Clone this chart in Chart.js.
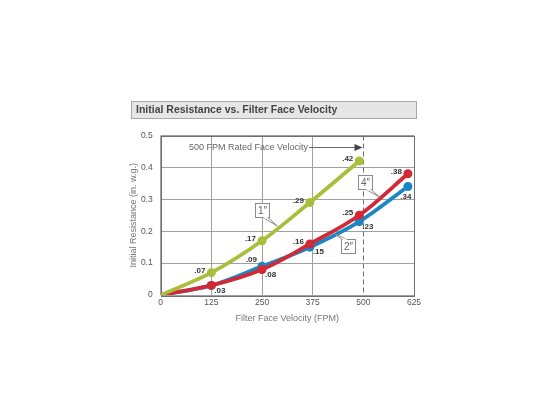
<!DOCTYPE html>
<html>
<head>
<meta charset="utf-8">
<title>Initial Resistance vs. Filter Face Velocity</title>
<script src="https://cdn.jsdelivr.net/npm/chart.js@4.4.0/dist/chart.umd.min.js"></script>
<style>
  html, body { margin: 0; padding: 0; background: #fff; }
  #chart { display: block; }
</style>
</head>
<body>
<canvas id="chart" width="550" height="420"></canvas>
<script>
/** Data */
const velocity = [0, 125, 250, 368, 490, 610];
const oneInch = [0, 0.07, 0.17, 0.29, 0.42];
const twoInch = [0, 0.03, 0.09, 0.15, 0.23, 0.34];
const fourInch = [0, 0.03, 0.08, 0.16, 0.25, 0.38];

const oneInchLabels = ['', '.07', '.17', '.29', '.42'];
const twoInchLabels = ['', '', '.09', '.15', '.23', '.34'];
const fourInchLabels = ['', '.03', '.08', '.16', '.25', '.38'];

// which side of the point each value label sits on
const oneInchSides = ['', 'w', 'w', 'w', 'w'];
const twoInchSides = ['', '', 'nw', 'se', 'se', 's'];
const fourInchSides = ['', 'se', 'se', 'w', 'w', 'w'];

const xTicks = [0, 125, 250, 375, 500, 625];
const yTicks = [0, 0.1, 0.2, 0.3, 0.4, 0.5];
const ratedVelocity = 500;
const ratedText = '500 FPM Rated Face Velocity';
const titleText = 'Initial Resistance vs. Filter Face Velocity';
/** End of Data */

const FONT = '"Liberation Sans Narrow", "Liberation Sans", Arial, sans-serif';

function points(values) {
  return values.map((v, i) => ({ x: velocity[i], y: v }));
}

function radii(values) {
  return values.map((v, i) => (i === 0 ? 0 : 4.5));
}

// callout boxes, placed in data units
const callouts = [
  { text: '1\u2033', x: 250.5, y: 0.265, tipX: 288, tipY: 0.216 },
  { text: '2\u2033', x: 461, y: 0.154, tipX: 431, tipY: 0.191 },
  { text: '4\u2033', x: 504, y: 0.354, tipX: 540, tipY: 0.307 },
];

const frame = {
  id: 'frame',
  beforeDraw(chart) {
    const ctx = chart.ctx;
    ctx.save();
    // title bar
    ctx.fillStyle = '#e6e6e6';
    ctx.fillRect(131.5, 101.5, 285, 17);
    ctx.strokeStyle = '#a8a8a8';
    ctx.lineWidth = 1;
    ctx.strokeRect(131.5, 101.5, 285, 17);
    ctx.fillStyle = '#444';
    ctx.font = 'bold 10.5px ' + FONT;
    ctx.textBaseline = 'middle';
    ctx.textAlign = 'left';
    ctx.fillText(titleText, 136, 110.5);
    ctx.restore();
  },
  beforeDatasetsDraw(chart) {
    const { ctx, chartArea: a, scales } = chart;
    const x = Math.round(scales.x.getPixelForValue(ratedVelocity)) + 0.5;
    ctx.save();
    ctx.strokeStyle = '#6f6f6f';
    ctx.lineWidth = 1;
    ctx.strokeRect(Math.round(a.left) + 0.5, Math.round(a.top) + 0.5,
      Math.round(a.right - a.left), Math.round(a.bottom - a.top));
    ctx.setLineDash([5, 3]);
    ctx.beginPath();
    ctx.moveTo(x, a.top);
    ctx.lineTo(x, a.bottom);
    ctx.stroke();
    ctx.setLineDash([]);

    // rated velocity arrow
    const y = Math.round(scales.y.getPixelForValue(0.465)) + 0.5;
    ctx.font = '9px ' + FONT;
    ctx.fillStyle = '#666';
    ctx.textAlign = 'right';
    ctx.textBaseline = 'middle';
    ctx.fillText(ratedText, 308, y);
    ctx.strokeStyle = '#666';
    ctx.beginPath();
    ctx.moveTo(309, y);
    ctx.lineTo(x - 6, y);
    ctx.stroke();
    ctx.beginPath();
    ctx.moveTo(x - 1, y);
    ctx.lineTo(x - 9, y - 3.5);
    ctx.lineTo(x - 9, y + 3.5);
    ctx.closePath();
    ctx.fillStyle = '#444';
    ctx.fill();
    ctx.restore();
  },
  afterDatasetsDraw(chart) {
    const { ctx, scales } = chart;
    ctx.save();

    // value labels
    const labels = [oneInchLabels, fourInchLabels, twoInchLabels];
    const sides = [oneInchSides, fourInchSides, twoInchSides];
    ctx.font = 'bold 8px ' + FONT;
    ctx.fillStyle = '#333';
    ctx.textBaseline = 'middle';
    labels.forEach((set, d) => {
      const meta = chart.getDatasetMeta(d);
      set.forEach((txt, i) => {
        if (!txt) return;
        const p = meta.data[i];
        const side = sides[d][i];
        if (side === 'w') {
          ctx.textAlign = 'right';
          ctx.fillText(txt, p.x - 6, p.y - 2);
        } else if (side === 'nw') {
          ctx.textAlign = 'right';
          ctx.fillText(txt, p.x - 5, p.y - 6);
        } else if (side === 'se') {
          ctx.textAlign = 'left';
          ctx.fillText(txt, p.x + 3, p.y + 5);
        } else if (side === 's') {
          ctx.textAlign = 'center';
          ctx.fillText(txt, p.x - 2, p.y + 10);
        }
      });
    });

    // callouts
    ctx.font = '10px ' + FONT;
    callouts.forEach((c) => {
      const cx = Math.round(scales.x.getPixelForValue(c.x));
      const cy = Math.round(scales.y.getPixelForValue(c.y));
      const tx = scales.x.getPixelForValue(c.tipX);
      const ty = scales.y.getPixelForValue(c.tipY);
      const h = 7;
      const ey = ty > cy ? cy + h + 0.5 : cy - h + 0.5;
      const b1 = tx > cx ? cx + 1 : cx - 6;
      const b2 = tx > cx ? cx + 6 : cx - 1;
      ctx.fillStyle = '#fff';
      ctx.strokeStyle = '#8a8a8a';
      ctx.lineWidth = 1;
      ctx.fillRect(cx - h + 0.5, cy - h + 0.5, 2 * h, 2 * h);
      ctx.strokeRect(cx - h + 0.5, cy - h + 0.5, 2 * h, 2 * h);
      ctx.beginPath();
      ctx.moveTo(b1, ey);
      ctx.lineTo(tx, ty);
      ctx.lineTo(b2, ey);
      ctx.fill();
      ctx.stroke();
      ctx.fillRect(b1 + 0.5, ey - 1, b2 - b1 - 1, 2);
      ctx.fillStyle = '#666';
      ctx.textAlign = 'center';
      ctx.textBaseline = 'middle';
      ctx.fillText(c.text, cx + 0.5, cy + 1);
    });
    ctx.restore();
  },
};

function series(label, values, color) {
  return {
    label,
    data: points(values),
    borderColor: color,
    backgroundColor: color,
    borderWidth: 3.8,
    pointRadius: radii(values),
    pointHoverRadius: radii(values),
    pointBorderWidth: 0,
    tension: 0.35,
    fill: false,
  };
}

new Chart(document.getElementById('chart'), {
  type: 'line',
  data: {
    datasets: [
      series('1"', oneInch, '#a9bf3c'),
      series('4"', fourInch, '#d12a36'),
      series('2"', twoInch, '#1b86c4'),
    ],
  },
  options: {
    responsive: false,
    animation: false,
    layout: { padding: { left: 128, top: 135.5, right: 136, bottom: 96 } },
    plugins: {
      legend: { display: false },
      tooltip: { enabled: false },
    },
    scales: {
      x: {
        type: 'linear',
        min: 0,
        max: 625,
        afterFit(s) { s.height = 29; },
        afterBuildTicks(s) { s.ticks = xTicks.map((v) => ({ value: v })); },
        grid: {
          color: (c) => (c.tick && c.tick.value === ratedVelocity ? 'rgba(0,0,0,0)' : '#a0a0a0'),
          drawTicks: false,
        },
        border: { display: false },
        ticks: {
          padding: 3,
          color: '#555',
          font: { family: FONT, size: 8.5 },
          callback: (v) => String(v),
        },
        title: {
          display: true,
          text: 'Filter Face Velocity (FPM)',
          color: '#777',
          padding: 0,
          font: { family: FONT, size: 9 },
        },
      },
      y: {
        min: 0,
        max: 0.5,
        afterFit(s) { s.width = 32.7; },
        afterBuildTicks(s) { s.ticks = yTicks.map((v) => ({ value: v })); },
        grid: { color: '#a0a0a0', drawTicks: false },
        border: { display: false },
        ticks: {
          padding: 8,
          color: '#555',
          font: { family: FONT, size: 8.5 },
          callback: (v) => (v === 0 ? '0' : v.toFixed(1)),
        },
        title: {
          display: true,
          text: 'Initial Resistance (in. w.g.)',
          color: '#777',
          padding: 0,
          font: { family: FONT, size: 9 },
        },
      },
    },
  },
  plugins: [frame],
});
</script>
</body>
</html>
